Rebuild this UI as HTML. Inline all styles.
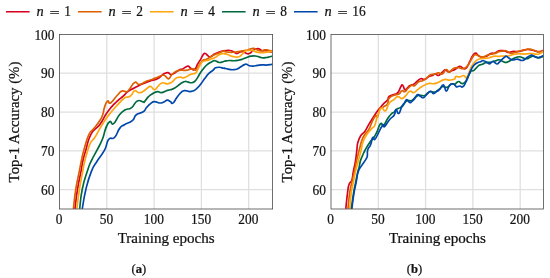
<!DOCTYPE html>
<html><head><meta charset="utf-8"><title>Top-1 Accuracy vs Training epochs</title>
<style>
html,body{margin:0;padding:0;background:#fff;}
svg{display:block;}
text{font-family:"Liberation Serif","DejaVu Serif",serif;font-size:13.3px;fill:#111;stroke:#111;stroke-width:0.22px;}
</style></head>
<body>
<svg width="550" height="278" viewBox="0 0 550 278">
<rect width="550" height="278" fill="#fff"/>
<path d="M6,11.75 H29.6" stroke="#d9001f" stroke-width="1.55" fill="none"/>
<text x="36.6" y="15.6" style="font-style:italic;font-size:14.4px">n</text>
<text x="49.4" y="17.25" style="font-size:13.3px" textLength="10.2" lengthAdjust="spacingAndGlyphs">=</text>
<text x="64.2" y="15.6" style="font-size:14.4px" textLength="6.70" lengthAdjust="spacingAndGlyphs">1</text>
<path d="M78,11.75 H101.6" stroke="#dc5f00" stroke-width="1.55" fill="none"/>
<text x="108.6" y="15.6" style="font-style:italic;font-size:14.4px">n</text>
<text x="121.4" y="17.25" style="font-size:13.3px" textLength="10.2" lengthAdjust="spacingAndGlyphs">=</text>
<text x="136.2" y="15.6" style="font-size:14.4px" textLength="6.70" lengthAdjust="spacingAndGlyphs">2</text>
<path d="M150,11.75 H173.6" stroke="#ffa60f" stroke-width="1.55" fill="none"/>
<text x="180.6" y="15.6" style="font-style:italic;font-size:14.4px">n</text>
<text x="193.4" y="17.25" style="font-size:13.3px" textLength="10.2" lengthAdjust="spacingAndGlyphs">=</text>
<text x="208.2" y="15.6" style="font-size:14.4px" textLength="6.70" lengthAdjust="spacingAndGlyphs">4</text>
<path d="M222,11.75 H245.6" stroke="#00693e" stroke-width="1.55" fill="none"/>
<text x="252.6" y="15.6" style="font-style:italic;font-size:14.4px">n</text>
<text x="265.4" y="17.25" style="font-size:13.3px" textLength="10.2" lengthAdjust="spacingAndGlyphs">=</text>
<text x="280.2" y="15.6" style="font-size:14.4px" textLength="6.70" lengthAdjust="spacingAndGlyphs">8</text>
<path d="M294,11.75 H317.6" stroke="#0047ab" stroke-width="1.55" fill="none"/>
<text x="324.6" y="15.6" style="font-style:italic;font-size:14.4px">n</text>
<text x="337.4" y="17.25" style="font-size:13.3px" textLength="10.2" lengthAdjust="spacingAndGlyphs">=</text>
<text x="352.2" y="15.6" style="font-size:14.4px" textLength="13.40" lengthAdjust="spacingAndGlyphs">16</text>
<clipPath id="c1"><rect x="59.5" y="34.4" width="213.10" height="174.60"/></clipPath>
<path d="M106.80,34.4 V209.0 M154.10,34.4 V209.0 M201.40,34.4 V209.0 M248.70,34.4 V209.0 M59.5,189.60 H272.6 M59.5,150.80 H272.6 M59.5,112.00 H272.6 M59.5,73.20 H272.6" stroke="#dfdfdf" stroke-width="1.25" fill="none"/>
<g clip-path="url(#c1)" fill="none" stroke-width="1.68" stroke-linejoin="round" stroke-linecap="butt">
<path d="M74.92,208.88 C75.61,203.65 75.90,199.20 77.51,189.25 C79.12,179.30 79.52,179.16 80.96,171.57 C82.40,163.98 81.59,166.54 82.9,160.78 C84.21,155.02 83.77,156.96 85.88,149.97 C87.99,142.98 87.13,141.30 90.82,134.55 C94.51,127.80 95.77,129.93 99.72,124.66 C103.67,119.39 102.49,119.52 105.65,114.77 C108.81,110.02 108.42,110.55 111.58,106.86 C114.74,103.17 114.34,103.83 117.51,100.93 C120.68,98.03 120.71,98.45 123.45,95.99 C126.19,93.53 125.06,93.73 127.8,91.69 C130.54,89.65 130.57,90.07 133.73,88.33 C136.89,86.59 136.50,86.64 139.66,85.17 C142.82,83.70 142.42,84.07 145.59,82.8 C148.76,81.53 148.36,81.48 151.53,80.42 C154.70,79.36 154.56,80.31 157.46,78.84 C160.36,77.37 160.39,76.37 162.4,74.89 C164.41,73.41 163.47,73.89 165.0,73.3 C166.53,72.71 166.47,72.33 168.15,72.67 C169.83,73.01 169.45,74.56 171.3,74.56 C173.15,74.56 173.07,73.85 175.08,72.67 C177.09,71.49 176.84,71.16 178.85,70.15 C180.86,69.14 180.78,69.73 182.63,68.89 C184.48,68.05 184.27,67.74 185.78,67.0 C187.29,66.26 186.96,65.78 188.3,66.12 C189.64,66.46 189.14,67.35 190.82,68.26 C192.50,69.17 192.75,70.70 194.6,69.52 C196.45,68.34 196.07,66.70 197.75,63.85 C199.43,61.00 199.38,61.34 200.89,58.82 C202.40,56.30 202.23,55.82 203.41,54.41 C204.59,53.00 204.12,53.19 205.3,53.53 C206.48,53.87 206.64,54.76 207.82,55.67 C209.00,56.58 208.53,56.93 209.71,56.93 C210.89,56.93 210.82,56.51 212.23,55.67 C213.64,54.83 213.11,54.72 215.0,53.78 C216.89,52.84 217.02,52.96 219.32,52.14 C221.62,51.32 222.12,51.07 223.63,50.71 C225.14,50.35 223.77,50.92 225.0,50.8 C226.23,50.68 226.51,50.26 228.24,50.26 C229.97,50.26 229.75,50.22 231.48,50.8 C233.21,51.38 233.28,51.70 234.72,52.42 C236.16,53.14 235.44,53.64 236.88,53.5 C238.32,53.36 238.39,52.31 240.12,51.88 C241.85,51.45 241.78,51.54 243.36,51.88 C244.94,52.22 244.76,52.65 246.06,53.17 C247.36,53.69 247.07,53.88 248.22,53.82 C249.37,53.76 249.23,53.77 250.38,52.96 C251.53,52.15 251.24,51.81 252.54,50.8 C253.84,49.79 253.80,49.76 255.24,49.18 C256.68,48.60 256.64,48.55 257.94,48.64 C259.24,48.73 258.95,48.92 260.1,49.5 C261.25,50.08 260.96,50.51 262.26,50.8 C263.56,51.09 263.38,50.44 264.96,50.58 C266.54,50.72 266.33,50.93 268.2,51.34 C270.07,51.75 270.97,51.90 271.98,52.1" stroke="#d9001f"/>
<path d="M73.41,208.88 C74.04,203.65 74.23,199.20 75.78,189.25 C77.33,179.30 77.74,179.16 79.24,171.57 C80.74,163.98 80.15,166.54 81.39,160.78 C82.63,155.02 81.91,156.96 83.9,149.97 C85.89,142.98 86.20,140.24 88.84,134.55 C91.48,128.86 90.89,132.31 93.79,128.62 C96.69,124.93 97.35,124.40 99.72,120.71 C102.09,117.02 101.36,118.46 102.68,114.77 C104.00,111.08 103.34,110.55 104.66,106.86 C105.98,103.17 106.05,101.98 107.63,100.93 C109.21,99.88 107.96,104.49 110.59,102.91 C113.22,101.33 114.50,98.15 117.51,95.0 C120.52,91.85 119.38,91.98 121.86,91.1 C124.34,90.22 124.70,92.32 126.81,91.69 C128.92,91.06 127.66,91.21 129.77,88.73 C131.88,86.25 132.35,83.56 134.72,82.4 C137.09,81.24 136.56,84.17 138.67,84.38 C140.78,84.59 140.26,84.14 142.63,83.19 C145.00,82.24 144.94,81.87 147.57,80.82 C150.20,79.77 149.87,80.19 152.51,79.24 C155.15,78.29 154.82,78.32 157.46,77.26 C160.10,76.20 160.39,75.66 162.4,75.28 C164.41,74.90 163.63,75.00 165.0,75.82 C166.37,76.64 166.34,77.67 167.52,78.34 C168.70,79.01 168.23,79.35 169.41,78.34 C170.59,77.33 170.42,76.24 171.93,74.56 C173.44,72.88 173.57,73.05 175.08,72.04 C176.59,71.03 176.08,71.28 177.59,70.78 C179.10,70.28 179.06,70.25 180.74,70.15 C182.42,70.05 182.21,70.40 183.89,70.4 C185.57,70.40 185.36,70.49 187.04,70.15 C188.72,69.81 188.51,69.48 190.19,69.14 C191.87,68.80 191.83,68.69 193.34,68.89 C194.85,69.09 194.52,70.57 195.86,69.9 C197.20,69.23 197.04,68.32 198.38,66.37 C199.72,64.42 199.55,64.27 200.89,62.59 C202.23,60.91 202.07,60.92 203.41,60.08 C204.75,59.24 204.59,59.95 205.93,59.45 C207.27,58.95 206.94,59.03 208.45,58.19 C209.96,57.35 209.85,57.31 211.6,56.3 C213.35,55.29 212.94,55.33 215.0,54.41 C217.06,53.49 217.02,53.77 219.32,52.86 C221.62,51.95 222.12,51.31 223.63,50.99 C225.14,50.67 223.77,51.36 225.0,51.66 C226.23,51.96 226.51,51.90 228.24,52.1 C229.97,52.30 229.75,52.42 231.48,52.42 C233.21,52.42 232.99,52.30 234.72,52.1 C236.45,51.90 236.23,51.95 237.96,51.66 C239.69,51.37 239.47,51.31 241.2,51.02 C242.93,50.73 242.71,50.87 244.44,50.58 C246.17,50.29 245.95,50.40 247.68,49.94 C249.41,49.48 249.34,49.27 250.92,48.86 C252.50,48.45 252.18,48.25 253.62,48.42 C255.06,48.59 254.88,48.92 256.32,49.5 C257.76,50.08 257.58,50.23 259.02,50.58 C260.46,50.93 260.28,50.97 261.72,50.8 C263.16,50.63 262.98,50.17 264.42,49.94 C265.86,49.71 265.68,49.77 267.12,49.94 C268.56,50.11 268.38,50.35 269.82,50.58 C271.26,50.81 271.80,50.74 272.52,50.8" stroke="#dc5f00"/>
<path d="M76.86,208.88 C77.55,203.65 77.90,199.20 79.45,189.25 C81.00,179.30 81.25,179.16 82.69,171.57 C84.13,163.98 83.46,166.54 84.84,160.78 C86.22,155.02 86.26,154.86 87.85,149.97 C89.44,145.08 88.97,145.78 90.82,142.46 C92.67,139.14 92.66,140.68 94.77,137.51 C96.88,134.34 96.09,135.07 98.73,130.59 C101.37,126.11 101.50,125.45 104.66,120.71 C107.82,115.97 107.16,117.02 110.59,112.8 C114.02,108.58 113.82,108.84 117.51,104.89 C121.20,100.94 121.54,100.08 124.44,97.97 C127.34,95.86 126.54,97.77 128.39,96.98 C130.24,96.19 129.67,96.67 131.36,95.0 C133.05,93.33 132.77,91.33 134.72,90.71 C136.67,90.09 136.56,92.42 138.67,92.68 C140.78,92.94 140.52,92.74 142.63,91.69 C144.74,90.64 144.47,90.15 146.58,88.73 C148.69,87.31 148.43,86.10 150.54,86.36 C152.65,86.62 152.38,89.88 154.49,89.72 C156.60,89.56 156.34,87.61 158.45,85.76 C160.56,83.91 160.03,83.33 162.4,82.8 C164.77,82.27 164.80,83.97 167.34,83.79 C169.88,83.61 169.87,83.41 171.93,82.12 C173.99,80.83 173.57,80.21 175.08,78.97 C176.59,77.73 176.08,77.96 177.59,77.46 C179.10,76.96 179.23,76.95 180.74,77.08 C182.25,77.21 181.92,77.96 183.26,77.96 C184.60,77.96 184.27,77.82 185.78,77.08 C187.29,76.34 187.25,76.03 188.93,75.19 C190.61,74.35 190.40,74.43 192.08,73.93 C193.76,73.43 193.89,74.14 195.23,73.3 C196.57,72.46 195.95,72.80 197.12,70.78 C198.29,68.76 198.29,68.09 199.63,65.74 C200.97,63.39 200.64,63.30 202.15,61.96 C203.66,60.62 203.62,61.21 205.3,60.71 C206.98,60.21 206.77,60.58 208.45,60.08 C210.13,59.58 209.85,59.49 211.6,58.82 C213.35,58.15 213.13,58.57 215.0,57.56 C216.87,56.55 216.68,56.08 218.6,55.02 C220.52,53.96 220.48,53.90 222.19,53.58 C223.90,53.26 223.53,53.55 225.0,53.82 C226.47,54.09 226.12,54.00 227.7,54.58 C229.28,55.16 229.21,55.40 230.94,55.98 C232.67,56.56 232.45,56.45 234.18,56.74 C235.91,57.03 235.84,57.20 237.42,57.06 C239.00,56.92 238.82,57.01 240.12,56.2 C241.42,55.39 241.13,55.25 242.28,54.04 C243.43,52.83 243.14,52.58 244.44,51.66 C245.74,50.74 245.70,50.95 247.14,50.58 C248.58,50.21 248.40,50.26 249.84,50.26 C251.28,50.26 251.10,50.21 252.54,50.58 C253.98,50.95 253.66,51.17 255.24,51.66 C256.82,52.15 256.75,52.13 258.48,52.42 C260.21,52.71 259.99,52.74 261.72,52.74 C263.45,52.74 263.23,52.65 264.96,52.42 C266.69,52.19 266.18,52.17 268.2,51.88 C270.22,51.59 271.37,51.48 272.52,51.34" stroke="#ffa60f"/>
<path d="M79.67,208.88 C80.36,203.65 80.24,199.20 82.25,189.25 C84.26,179.30 84.80,179.16 87.22,171.57 C89.64,163.98 88.66,166.54 91.31,160.78 C93.96,155.02 94.12,155.91 97.15,149.97 C100.18,144.03 100.41,144.19 102.68,138.5 C104.95,132.81 103.80,133.10 105.65,128.62 C107.50,124.14 107.49,123.01 109.6,121.69 C111.71,120.37 110.92,125.52 113.56,123.67 C116.20,121.82 116.33,118.46 119.49,114.77 C122.65,111.08 122.25,111.68 125.42,109.83 C128.59,107.98 128.19,110.22 131.36,107.85 C134.53,105.48 134.13,102.51 137.29,100.93 C140.45,99.35 141.27,101.75 143.22,101.92 C145.17,102.09 143.18,102.99 144.6,101.58 C146.02,100.17 146.45,98.75 148.56,96.64 C150.67,94.53 150.14,94.99 152.51,93.67 C154.88,92.35 155.09,91.95 157.46,91.69 C159.83,91.43 159.04,92.94 161.41,92.68 C163.78,92.42 163.99,91.50 166.36,90.71 C168.73,89.92 168.20,90.35 170.31,89.72 C172.42,89.09 171.99,89.59 174.27,88.33 C176.55,87.07 176.79,86.50 178.85,85.01 C180.91,83.52 180.32,83.69 182.0,82.75 C183.68,81.81 183.47,81.66 185.15,81.49 C186.83,81.32 186.62,81.78 188.3,82.12 C189.98,82.46 189.77,82.92 191.45,82.75 C193.13,82.58 193.09,82.67 194.6,81.49 C196.11,80.31 195.78,80.36 197.12,78.34 C198.46,76.32 198.12,76.28 199.63,73.93 C201.14,71.58 201.10,71.70 202.78,69.52 C204.46,67.34 204.25,67.42 205.93,65.74 C207.61,64.06 207.40,64.33 209.08,63.22 C210.76,62.11 210.65,62.26 212.23,61.59 C213.81,60.92 213.11,60.47 215.0,60.71 C216.89,60.95 217.02,62.29 219.32,62.5 C221.62,62.71 222.12,61.88 223.63,61.5 C225.14,61.12 223.48,61.32 225.0,61.06 C226.52,60.80 227.02,60.61 229.32,60.52 C231.62,60.43 231.34,60.79 233.64,60.73 C235.94,60.67 235.66,60.70 237.96,60.3 C240.26,59.90 239.98,59.97 242.28,59.22 C244.58,58.47 244.30,58.30 246.6,57.49 C248.90,56.68 248.62,56.60 250.92,56.2 C253.22,55.80 252.94,55.75 255.24,55.98 C257.54,56.21 257.54,56.57 259.56,57.06 C261.58,57.55 260.93,57.71 262.8,57.82 C264.67,57.93 264.71,57.78 266.58,57.49 C268.45,57.20 268.24,57.08 269.82,56.74 C271.40,56.40 271.80,56.34 272.52,56.2" stroke="#00693e"/>
<path d="M82.25,208.88 C83.23,203.65 83.50,199.20 85.92,189.25 C88.34,179.30 88.26,179.16 91.31,171.57 C94.36,163.98 93.79,166.54 97.35,160.78 C100.91,155.02 101.65,155.65 104.66,149.97 C107.67,144.29 105.98,142.81 108.62,139.49 C111.26,136.17 111.65,140.41 114.55,137.51 C117.45,134.61 116.85,132.05 119.49,128.62 C122.13,125.19 121.01,126.77 124.44,124.66 C127.87,122.55 129.18,123.35 132.34,120.71 C135.50,118.07 133.40,117.14 136.3,114.77 C139.20,112.40 140.48,113.75 143.22,111.81 C145.96,109.87 144.63,109.71 146.58,107.51 C148.53,105.31 148.43,105.14 150.54,103.56 C152.65,101.98 152.12,101.74 154.49,101.58 C156.86,101.42 157.07,102.81 159.44,102.97 C161.81,103.13 161.28,102.92 163.39,102.18 C165.50,101.44 165.49,100.36 167.34,100.2 C169.19,100.04 168.82,100.80 170.31,101.58 C171.80,102.36 171.16,104.18 172.91,103.11 C174.66,102.04 174.75,100.36 176.86,97.57 C178.97,94.78 178.71,94.48 180.82,92.63 C182.93,90.78 182.40,90.91 184.77,90.65 C187.14,90.39 187.35,91.64 189.72,91.64 C192.09,91.64 191.82,91.44 193.67,90.65 C195.52,89.86 194.69,90.52 196.64,88.67 C198.59,86.82 198.78,86.52 200.99,83.73 C203.20,80.94 202.83,80.93 204.94,78.19 C207.05,75.45 206.63,75.66 208.9,73.45 C211.17,71.24 211.82,71.35 213.45,69.89 C215.08,68.43 213.43,68.67 215.0,67.97 C216.57,67.27 217.02,67.17 219.32,67.25 C221.62,67.33 222.12,67.98 223.63,68.26 C225.14,68.54 223.48,67.99 225.0,68.29 C226.52,68.59 227.02,68.99 229.32,69.37 C231.62,69.75 231.34,69.90 233.64,69.7 C235.94,69.50 235.94,69.48 237.96,68.62 C239.98,67.76 239.47,67.53 241.2,66.46 C242.93,65.39 243.00,65.20 244.44,64.62 C245.88,64.04 245.30,64.01 246.6,64.3 C247.90,64.59 247.57,65.21 249.3,65.7 C251.03,66.19 250.92,66.22 253.08,66.13 C255.24,66.04 255.10,65.72 257.4,65.38 C259.70,65.04 259.42,64.93 261.72,64.84 C264.02,64.75 263.74,65.11 266.04,65.05 C268.34,64.99 268.63,64.91 270.36,64.62 C272.09,64.33 271.94,64.14 272.52,63.97" stroke="#0047ab"/>
</g>
<rect x="59.5" y="34.4" width="213.10" height="174.60" fill="none" stroke="#4a4a4a" stroke-width="0.8"/>
<text x="54.50" y="194.75" text-anchor="end" style="font-size:14.4px" textLength="13.40" lengthAdjust="spacingAndGlyphs">60</text>
<text x="54.50" y="155.95" text-anchor="end" style="font-size:14.4px" textLength="13.40" lengthAdjust="spacingAndGlyphs">70</text>
<text x="54.50" y="117.15" text-anchor="end" style="font-size:14.4px" textLength="13.40" lengthAdjust="spacingAndGlyphs">80</text>
<text x="54.50" y="78.35" text-anchor="end" style="font-size:14.4px" textLength="13.40" lengthAdjust="spacingAndGlyphs">90</text>
<text x="54.50" y="39.55" text-anchor="end" style="font-size:14.4px" textLength="20.10" lengthAdjust="spacingAndGlyphs">100</text>
<text x="59.20" y="224.4" text-anchor="middle" style="font-size:14.4px" textLength="6.70" lengthAdjust="spacingAndGlyphs">0</text>
<text x="106.50" y="224.4" text-anchor="middle" style="font-size:14.4px" textLength="13.40" lengthAdjust="spacingAndGlyphs">50</text>
<text x="153.80" y="224.4" text-anchor="middle" style="font-size:14.4px" textLength="20.10" lengthAdjust="spacingAndGlyphs">100</text>
<text x="201.10" y="224.4" text-anchor="middle" style="font-size:14.4px" textLength="20.10" lengthAdjust="spacingAndGlyphs">150</text>
<text x="248.40" y="224.4" text-anchor="middle" style="font-size:14.4px" textLength="20.10" lengthAdjust="spacingAndGlyphs">200</text>
<text x="166.15" y="243.3" text-anchor="middle" style="font-size:13.9px" textLength="97" lengthAdjust="spacingAndGlyphs">Training epochs</text>
<text transform="translate(19.30,122.00) rotate(-90)" text-anchor="middle" style="font-size:13.9px" textLength="120.8" lengthAdjust="spacingAndGlyphs">Top-1 Accuracy (%)</text>
<clipPath id="c2"><rect x="331.0" y="34.4" width="212.60" height="174.60"/></clipPath>
<path d="M378.30,34.4 V209.0 M425.60,34.4 V209.0 M472.90,34.4 V209.0 M520.20,34.4 V209.0 M331.0,189.60 H543.6 M331.0,150.80 H543.6 M331.0,112.00 H543.6 M331.0,73.20 H543.6" stroke="#dfdfdf" stroke-width="1.25" fill="none"/>
<g clip-path="url(#c2)" fill="none" stroke-width="1.68" stroke-linejoin="round" stroke-linecap="butt">
<path d="M345.78,208.88 C346.24,204.68 346.65,199.64 347.51,193.14 C348.37,186.64 347.87,187.96 349.02,184.51 C350.17,181.06 350.67,183.65 351.82,180.2 C352.97,176.75 352.35,176.75 353.33,171.57 C354.31,166.39 354.55,166.54 355.49,160.78 C356.43,155.02 356.23,154.86 356.86,149.97 C357.49,145.08 356.79,146.31 357.85,142.46 C358.91,138.61 358.97,138.44 360.82,135.54 C362.67,132.64 362.66,134.48 364.77,131.58 C366.88,128.68 366.36,128.61 368.73,124.66 C371.10,120.71 371.30,120.44 373.67,116.75 C376.04,113.06 375.26,113.98 377.63,110.82 C380.00,107.66 379.94,107.79 382.57,104.89 C385.20,101.99 385.81,102.15 387.51,99.94 C389.21,97.73 387.25,98.02 388.95,96.6 C390.65,95.18 391.53,95.68 393.9,94.63 C396.27,93.58 396.00,94.76 397.85,92.65 C399.70,90.54 399.50,88.67 400.82,86.72 C402.14,84.77 401.75,84.54 402.8,85.33 C403.85,86.12 403.72,88.78 404.77,89.68 C405.82,90.58 405.43,89.74 406.75,88.69 C408.07,87.64 407.87,86.94 409.72,85.73 C411.57,84.52 411.82,85.21 413.67,84.15 C415.52,83.09 414.79,83.19 416.64,81.77 C418.49,80.35 418.48,79.44 420.59,78.81 C422.70,78.18 422.44,79.93 424.55,79.4 C426.66,78.87 426.39,77.88 428.5,76.83 C430.61,75.78 430.61,76.24 432.46,75.45 C434.31,74.66 433.84,73.86 435.42,73.86 C437.00,73.86 436.54,75.87 438.39,75.45 C440.24,75.03 440.49,73.76 442.34,72.28 C444.19,70.80 443.73,70.01 445.31,69.91 C446.89,69.81 446.70,71.63 448.28,71.89 C449.86,72.15 449.45,71.53 451.24,70.9 C453.03,70.27 452.73,70.75 455.0,69.51 C457.27,68.27 457.44,66.48 459.77,66.24 C462.10,66.00 461.88,68.25 463.73,68.62 C465.58,68.99 465.11,69.48 466.69,67.63 C468.27,65.78 468.08,64.86 469.66,61.69 C471.24,58.52 471.05,58.03 472.63,55.76 C474.21,53.49 474.01,53.19 475.59,53.19 C477.17,53.19 476.71,54.70 478.56,55.76 C480.41,56.82 480.14,57.15 482.51,57.15 C484.88,57.15 485.30,56.71 487.46,55.76 C489.62,54.81 488.59,54.33 490.6,53.58 C492.61,52.83 493.11,53.56 495.0,52.96 C496.89,52.36 496.26,51.97 497.7,51.34 C499.14,50.71 498.96,50.78 500.4,50.58 C501.84,50.38 501.66,50.38 503.1,50.58 C504.54,50.78 504.36,50.85 505.8,51.34 C507.24,51.83 507.06,52.28 508.5,52.42 C509.94,52.56 509.76,52.17 511.2,51.88 C512.64,51.59 512.46,51.40 513.9,51.34 C515.34,51.28 515.16,51.66 516.6,51.66 C518.04,51.66 517.86,51.63 519.3,51.34 C520.74,51.05 520.56,50.95 522.0,50.58 C523.44,50.21 523.26,50.23 524.7,49.94 C526.14,49.65 525.96,49.56 527.4,49.5 C528.84,49.44 528.66,49.52 530.1,49.72 C531.54,49.92 531.36,49.91 532.8,50.26 C534.24,50.61 534.06,50.65 535.5,51.02 C536.94,51.39 536.76,51.57 538.2,51.66 C539.64,51.75 539.52,51.71 540.9,51.34 C542.28,50.97 542.72,50.55 543.38,50.26" stroke="#d9001f"/>
<path d="M347.94,208.88 C348.40,204.68 348.64,200.21 349.67,193.14 C350.70,186.07 350.56,188.10 351.82,182.35 C353.08,176.60 353.14,177.32 354.41,171.57 C355.68,165.82 355.28,166.54 356.57,160.78 C357.86,155.02 357.84,155.38 359.24,149.97 C360.64,144.56 360.34,144.59 361.81,140.48 C363.28,136.37 362.92,137.45 364.77,134.55 C366.62,131.65 366.62,133.29 368.73,129.6 C370.84,125.91 370.83,124.40 372.68,120.71 C374.53,117.02 374.33,116.82 375.65,115.76 C376.97,114.70 376.58,118.33 377.63,116.75 C378.68,115.17 378.02,112.47 379.6,109.83 C381.18,107.19 381.45,108.44 383.56,106.86 C385.67,105.28 386.07,106.11 387.51,103.9 C388.95,101.69 387.25,100.89 388.95,98.58 C390.65,96.27 391.26,96.43 393.9,95.22 C396.54,94.01 396.73,95.24 398.84,94.03 C400.95,92.82 400.23,91.30 401.81,90.67 C403.39,90.04 403.19,92.19 404.77,91.66 C406.35,91.13 405.89,90.38 407.74,88.69 C409.59,87.00 409.84,86.12 411.69,85.33 C413.54,84.54 412.81,86.68 414.66,85.73 C416.51,84.78 416.51,83.09 418.62,81.77 C420.73,80.45 420.46,81.74 422.57,80.79 C424.68,79.84 424.42,79.79 426.53,78.21 C428.64,76.63 428.37,75.90 430.48,74.85 C432.59,73.80 432.33,74.79 434.44,74.26 C436.55,73.73 436.28,72.99 438.39,72.88 C440.50,72.77 440.23,74.76 442.34,73.86 C444.45,72.96 444.45,69.93 446.3,69.51 C448.15,69.09 447.69,72.28 449.27,72.28 C450.85,72.28 450.70,70.67 452.23,69.51 C453.76,68.35 453.25,68.43 455.0,67.93 C456.75,67.43 456.73,67.45 458.79,67.63 C460.85,67.81 460.63,68.88 462.74,68.62 C464.85,68.36 464.84,68.22 466.69,66.64 C468.54,65.06 468.08,65.21 469.66,62.68 C471.24,60.15 471.05,59.26 472.63,57.15 C474.21,55.04 473.74,54.98 475.59,54.77 C477.44,54.56 477.44,55.83 479.55,56.36 C481.66,56.89 481.13,57.17 483.5,56.75 C485.87,56.33 486.56,55.42 488.45,54.77 C490.34,54.12 488.85,54.64 490.6,54.3 C492.35,53.96 493.11,54.09 495.0,53.5 C496.89,52.91 496.26,52.68 497.7,52.1 C499.14,51.52 498.96,51.63 500.4,51.34 C501.84,51.05 501.66,51.16 503.1,51.02 C504.54,50.88 504.36,50.51 505.8,50.8 C507.24,51.09 507.06,51.38 508.5,52.1 C509.94,52.82 509.76,53.33 511.2,53.5 C512.64,53.67 512.46,53.17 513.9,52.74 C515.34,52.31 515.16,52.34 516.6,51.88 C518.04,51.42 517.86,51.37 519.3,51.02 C520.74,50.67 520.56,50.87 522.0,50.58 C523.44,50.29 523.26,50.31 524.7,49.94 C526.14,49.57 525.96,49.38 527.4,49.18 C528.84,48.98 528.66,48.98 530.1,49.18 C531.54,49.38 531.36,49.51 532.8,49.94 C534.24,50.37 534.06,50.28 535.5,50.8 C536.94,51.32 536.76,51.65 538.2,51.88 C539.64,52.11 539.52,52.01 540.9,51.66 C542.28,51.31 542.72,50.87 543.38,50.58" stroke="#dc5f00"/>
<path d="M349.67,208.88 C350.07,204.68 350.20,200.21 351.18,193.14 C352.16,186.07 352.18,188.10 353.33,182.35 C354.48,176.60 354.17,177.32 355.49,171.57 C356.81,165.82 356.76,166.54 358.29,160.78 C359.82,155.02 360.01,154.86 361.21,149.97 C362.41,145.08 361.32,146.57 362.8,142.46 C364.28,138.35 364.38,138.24 366.75,134.55 C369.12,130.86 369.58,130.99 371.69,128.62 C373.80,126.25 373.34,128.29 374.66,125.65 C375.98,123.01 375.58,122.16 376.64,118.73 C377.70,115.30 377.30,115.70 378.62,112.8 C379.94,109.90 379.73,108.38 381.58,107.85 C383.43,107.32 383.57,111.97 385.54,110.82 C387.51,109.67 386.72,106.53 388.95,103.53 C391.18,100.53 391.53,101.42 393.9,99.57 C396.27,97.72 395.74,96.86 397.85,96.6 C399.96,96.34 399.70,98.84 401.81,98.58 C403.92,98.32 403.65,97.57 405.76,95.62 C407.87,93.67 407.61,92.06 409.72,91.27 C411.83,90.48 411.56,93.07 413.67,92.65 C415.78,92.23 415.52,91.26 417.63,89.68 C419.74,88.10 419.47,88.04 421.58,86.72 C423.69,85.40 423.43,85.64 425.54,84.74 C427.65,83.84 427.38,83.62 429.49,83.36 C431.60,83.10 431.34,83.91 433.45,83.75 C435.56,83.59 435.29,83.55 437.4,82.76 C439.51,81.97 439.25,81.69 441.36,80.79 C443.47,79.89 443.20,79.56 445.31,79.4 C447.42,79.24 447.16,80.19 449.27,80.19 C451.38,80.19 451.69,79.77 453.22,79.4 C454.75,79.03 454.31,79.58 455.0,78.81 C455.69,78.04 454.55,77.03 455.82,76.53 C457.09,76.03 457.66,77.18 459.77,76.92 C461.88,76.66 461.88,75.38 463.73,75.54 C465.58,75.70 465.11,78.83 466.69,77.51 C468.27,76.19 468.08,74.02 469.66,70.59 C471.24,67.16 470.78,67.40 472.63,64.66 C474.48,61.92 474.47,61.89 476.58,60.31 C478.69,58.73 478.43,59.26 480.54,58.73 C482.65,58.20 482.12,58.59 484.49,58.33 C486.86,58.07 487.81,58.05 489.44,57.74 C491.07,57.43 489.12,57.59 490.6,57.18 C492.08,56.77 492.96,56.41 495.0,56.2 C497.04,55.99 496.51,56.47 498.24,56.41 C499.97,56.35 499.75,56.04 501.48,55.98 C503.21,55.92 502.99,56.20 504.72,56.2 C506.45,56.20 506.23,56.27 507.96,55.98 C509.69,55.69 509.47,55.58 511.2,55.12 C512.93,54.66 512.71,54.60 514.44,54.25 C516.17,53.90 515.95,53.93 517.68,53.82 C519.41,53.71 519.19,53.76 520.92,53.82 C522.65,53.88 522.43,54.04 524.16,54.04 C525.89,54.04 525.67,53.96 527.4,53.82 C529.13,53.68 528.91,53.50 530.64,53.5 C532.37,53.50 532.15,53.62 533.88,53.82 C535.61,54.02 535.39,54.34 537.12,54.25 C538.85,54.16 538.69,54.28 540.36,53.5 C542.03,52.72 542.57,51.92 543.38,51.34" stroke="#ffa60f"/>
<path d="M351.39,208.88 C351.97,204.68 352.40,200.21 353.55,193.14 C354.70,186.07 354.56,188.10 355.71,182.35 C356.86,176.60 356.94,175.60 357.86,171.57 C358.78,167.54 358.47,170.13 359.16,167.25 C359.85,164.37 359.53,163.94 360.45,160.78 C361.37,157.62 361.35,158.27 362.61,155.39 C363.87,152.51 363.27,153.42 365.17,149.97 C367.07,146.52 367.45,145.78 369.72,142.46 C371.99,139.14 371.82,140.15 373.67,137.51 C375.52,134.87 374.79,136.26 376.64,132.57 C378.49,128.88 378.74,125.52 380.59,123.67 C382.44,121.82 381.71,126.97 383.56,125.65 C385.41,124.33 385.40,121.89 387.51,118.73 C389.62,115.57 389.77,115.47 391.47,113.79 C393.17,112.11 392.46,113.68 393.9,112.42 C395.34,111.16 395.28,110.27 396.86,109.06 C398.44,107.85 398.25,108.72 399.83,107.88 C401.41,107.04 401.22,107.59 402.8,105.9 C404.38,104.21 404.18,102.97 405.76,101.55 C407.34,100.13 407.15,100.82 408.73,100.56 C410.31,100.30 410.11,101.25 411.69,100.56 C413.27,99.87 413.08,99.31 414.66,97.99 C416.24,96.67 416.05,96.36 417.63,95.62 C419.21,94.88 418.74,95.22 420.59,95.22 C422.44,95.22 422.70,96.15 424.55,95.62 C426.40,95.09 425.93,94.30 427.51,93.24 C429.09,92.18 428.90,91.97 430.48,91.66 C432.06,91.35 431.87,92.16 433.45,92.06 C435.03,91.96 434.83,92.01 436.41,91.27 C437.99,90.53 437.80,90.50 439.38,89.29 C440.96,88.08 440.76,87.25 442.34,86.72 C443.92,86.19 443.73,87.31 445.31,87.31 C446.89,87.31 446.70,87.56 448.28,86.72 C449.86,85.88 449.45,84.84 451.24,84.15 C453.03,83.46 453.78,84.34 455.0,84.15 C456.22,83.96 454.81,84.16 455.82,83.45 C456.83,82.74 457.21,81.47 458.79,81.47 C460.37,81.47 460.17,83.19 461.75,83.45 C463.33,83.71 463.14,84.04 464.72,82.46 C466.30,80.88 466.10,80.41 467.68,77.51 C469.26,74.61 469.07,73.43 470.65,71.58 C472.23,69.73 472.04,71.64 473.62,70.59 C475.20,69.54 475.00,69.10 476.58,67.63 C478.16,66.16 477.97,65.96 479.55,65.06 C481.13,64.16 480.93,64.90 482.51,64.27 C484.09,63.64 483.63,63.21 485.48,62.68 C487.33,62.15 488.07,62.41 489.44,62.29 C490.81,62.17 489.12,62.55 490.6,62.22 C492.08,61.89 493.11,61.66 495.0,61.06 C496.89,60.46 496.26,60.27 497.7,59.98 C499.14,59.69 498.96,59.55 500.4,59.98 C501.84,60.41 501.66,60.94 503.1,61.6 C504.54,62.26 504.36,62.46 505.8,62.46 C507.24,62.46 507.06,62.26 508.5,61.6 C509.94,60.94 509.76,60.84 511.2,59.98 C512.64,59.12 512.46,59.08 513.9,58.36 C515.34,57.64 515.16,57.71 516.6,57.28 C518.04,56.85 517.86,56.68 519.3,56.74 C520.74,56.80 520.56,57.00 522.0,57.49 C523.44,57.98 523.26,58.28 524.7,58.57 C526.14,58.86 525.96,58.91 527.4,58.57 C528.84,58.23 528.66,57.91 530.1,57.28 C531.54,56.65 531.36,56.34 532.8,56.2 C534.24,56.06 534.06,56.31 535.5,56.74 C536.94,57.17 536.76,57.68 538.2,57.82 C539.64,57.96 539.52,57.71 540.9,57.28 C542.28,56.85 542.72,56.49 543.38,56.2" stroke="#00693e"/>
<path d="M351.82,208.88 C352.40,204.68 352.83,200.21 353.98,193.14 C355.13,186.07 354.99,188.10 356.14,182.35 C357.29,176.60 356.74,176.17 358.29,171.57 C359.84,166.97 359.83,168.55 361.96,165.1 C364.09,161.65 364.83,161.22 366.27,158.63 C367.71,156.04 366.96,157.70 367.35,155.39 C367.74,153.08 366.84,152.89 367.74,149.97 C368.64,147.05 369.39,147.76 370.71,144.44 C372.03,141.12 371.63,138.83 372.68,137.51 C373.73,136.19 373.34,140.28 374.66,139.49 C375.98,138.70 376.05,137.45 377.63,134.55 C379.21,131.65 379.01,131.26 380.59,128.62 C382.17,125.98 382.50,125.19 383.56,124.66 C384.62,124.13 382.97,127.96 384.55,126.64 C386.13,125.32 386.85,122.89 389.49,119.72 C392.13,116.55 392.74,117.51 394.44,114.77 C396.14,112.03 394.71,109.82 395.88,109.46 C397.05,109.10 397.26,114.20 398.84,113.41 C400.42,112.62 400.23,109.39 401.81,106.49 C403.39,103.59 403.45,104.39 404.77,102.54 C406.09,100.69 405.43,99.57 406.75,99.57 C408.07,99.57 408.40,102.01 409.72,102.54 C411.04,103.07 410.37,102.61 411.69,101.55 C413.01,100.49 413.08,100.43 414.66,98.58 C416.24,96.73 416.05,95.16 417.63,94.63 C419.21,94.10 419.01,95.81 420.59,96.6 C422.17,97.39 421.98,98.12 423.56,97.59 C425.14,97.06 424.68,96.32 426.53,94.63 C428.38,92.94 428.63,91.53 430.48,91.27 C432.33,91.01 431.87,93.54 433.45,93.64 C435.03,93.74 434.83,92.72 436.41,91.66 C437.99,90.60 437.80,91.37 439.38,89.68 C440.96,87.99 441.02,86.28 442.34,85.33 C443.66,84.38 443.26,84.54 444.32,86.12 C445.38,87.70 444.98,91.37 446.3,91.27 C447.62,91.17 447.69,87.74 449.27,85.73 C450.85,83.72 450.70,83.86 452.23,83.75 C453.76,83.64 453.78,84.51 455.0,85.33 C456.22,86.15 455.54,86.63 456.81,86.81 C458.08,86.99 458.19,86.02 459.77,86.02 C461.35,86.02 461.16,87.76 462.74,86.81 C464.32,85.86 464.13,85.47 465.71,82.46 C467.29,79.45 467.09,79.23 468.67,75.54 C470.25,71.85 470.06,71.52 471.64,68.62 C473.22,65.72 473.02,66.24 474.6,64.66 C476.18,63.08 475.99,63.47 477.57,62.68 C479.15,61.89 478.96,62.22 480.54,61.69 C482.12,61.16 481.65,60.45 483.5,60.71 C485.35,60.97 486.14,61.97 487.46,62.68 C488.78,63.39 487.79,63.11 488.44,63.37 C489.09,63.63 488.73,64.15 489.88,63.65 C491.03,63.15 491.39,61.76 492.76,61.5 C494.13,61.24 493.83,62.02 495.0,62.68 C496.17,63.34 496.01,64.11 497.16,63.97 C498.31,63.83 498.02,63.35 499.32,62.14 C500.62,60.93 500.58,60.79 502.02,59.44 C503.46,58.09 503.57,57.92 504.72,57.06 C505.87,56.20 505.33,56.00 506.34,56.2 C507.35,56.40 507.20,56.96 508.5,57.82 C509.80,58.68 509.76,58.86 511.2,59.44 C512.64,60.02 512.46,60.04 513.9,59.98 C515.34,59.92 515.16,59.31 516.6,59.22 C518.04,59.13 517.86,59.30 519.3,59.65 C520.74,60.00 520.56,60.58 522.0,60.52 C523.44,60.46 523.26,60.30 524.7,59.44 C526.14,58.58 525.96,58.29 527.4,57.28 C528.84,56.27 528.95,56.24 530.1,55.66 C531.25,55.08 530.71,54.98 531.72,55.12 C532.73,55.26 532.58,55.57 533.88,56.2 C535.18,56.83 535.14,57.20 536.58,57.49 C538.02,57.78 537.98,57.57 539.28,57.28 C540.58,56.99 540.35,56.84 541.44,56.41 C542.53,55.98 542.86,55.86 543.38,55.66" stroke="#0047ab"/>
</g>
<rect x="331.0" y="34.4" width="212.60" height="174.60" fill="none" stroke="#4a4a4a" stroke-width="0.8"/>
<text x="326.00" y="194.75" text-anchor="end" style="font-size:14.4px" textLength="13.40" lengthAdjust="spacingAndGlyphs">60</text>
<text x="326.00" y="155.95" text-anchor="end" style="font-size:14.4px" textLength="13.40" lengthAdjust="spacingAndGlyphs">70</text>
<text x="326.00" y="117.15" text-anchor="end" style="font-size:14.4px" textLength="13.40" lengthAdjust="spacingAndGlyphs">80</text>
<text x="326.00" y="78.35" text-anchor="end" style="font-size:14.4px" textLength="13.40" lengthAdjust="spacingAndGlyphs">90</text>
<text x="326.00" y="39.55" text-anchor="end" style="font-size:14.4px" textLength="20.10" lengthAdjust="spacingAndGlyphs">100</text>
<text x="330.70" y="224.4" text-anchor="middle" style="font-size:14.4px" textLength="6.70" lengthAdjust="spacingAndGlyphs">0</text>
<text x="378.00" y="224.4" text-anchor="middle" style="font-size:14.4px" textLength="13.40" lengthAdjust="spacingAndGlyphs">50</text>
<text x="425.30" y="224.4" text-anchor="middle" style="font-size:14.4px" textLength="20.10" lengthAdjust="spacingAndGlyphs">100</text>
<text x="472.60" y="224.4" text-anchor="middle" style="font-size:14.4px" textLength="20.10" lengthAdjust="spacingAndGlyphs">150</text>
<text x="519.90" y="224.4" text-anchor="middle" style="font-size:14.4px" textLength="20.10" lengthAdjust="spacingAndGlyphs">200</text>
<text x="437.40" y="243.3" text-anchor="middle" style="font-size:13.9px" textLength="97" lengthAdjust="spacingAndGlyphs">Training epochs</text>
<text transform="translate(291.70,122.00) rotate(-90)" text-anchor="middle" style="font-size:13.9px" textLength="120.8" lengthAdjust="spacingAndGlyphs">Top-1 Accuracy (%)</text>
<text x="138.8" y="273.2" text-anchor="middle" style="font-size:12.6px">(<tspan font-weight="bold">a</tspan>)</text>
<text x="414.4" y="273.2" text-anchor="middle" style="font-size:12.6px">(<tspan font-weight="bold">b</tspan>)</text>
</svg>
</body></html>
